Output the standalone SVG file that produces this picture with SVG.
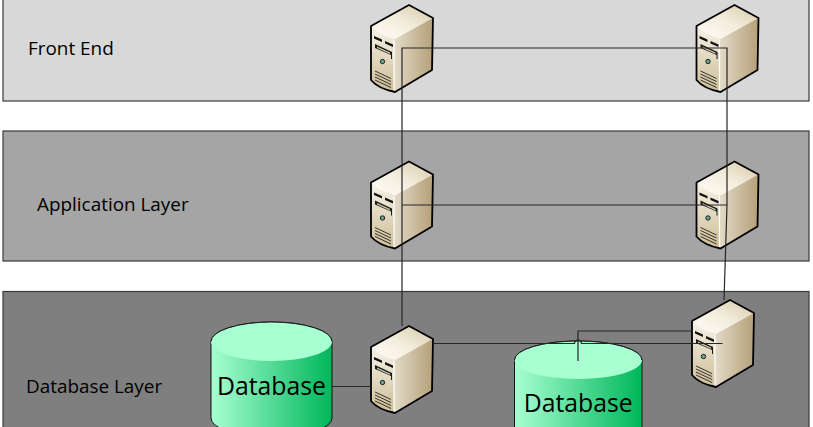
<svg xmlns="http://www.w3.org/2000/svg" width="813" height="427" viewBox="0 0 813 427">
<style>
text{font-family:"Open Sans","Noto Sans","Liberation Sans",sans-serif;fill:#000}
.lbl{font-size:18.900px}
.dbl{font-size:24.800px}
.band{stroke:#3a3a3a;stroke-width:1.2}
.c{fill:none;stroke:#262626;stroke-width:1.2}
.cyl{fill:url(#side);stroke:#111;stroke-width:1}
.top{fill:#a8ffd2}
</style>
<defs>
<linearGradient id="side" x1="0" x2="1" y1="0" y2="0"><stop offset="0" stop-color="#a8ffd2"/><stop offset="1" stop-color="#00b65a"/></linearGradient>
<linearGradient id="sr" x1="0" x2="1" y1="0" y2="0"><stop offset="0" stop-color="#e8e1cf"/><stop offset=".25" stop-color="#ece6d8"/><stop offset="1" stop-color="#b5a078"/></linearGradient>
<linearGradient id="st" x1="0" x2="1" y1="1" y2="0"><stop offset="0" stop-color="#fffdf8"/><stop offset=".5" stop-color="#f3eddd"/><stop offset="1" stop-color="#d5c8a6"/></linearGradient>
<linearGradient id="sf" x1="0" x2="0" y1="0" y2="1"><stop offset="0" stop-color="#f6f2e6"/><stop offset="1" stop-color="#cdbd96"/></linearGradient>
<g id="server">
<path d="M1 21 L39 0 L63 13 L62 65 L25 87 C15 85 6 81 1 75 Z" fill="url(#sr)"/>
<path d="M1 21 L39 0 L63 13 L25 34 C15 32 6 27 1 21 Z" fill="url(#st)"/>
<path d="M1 21 C6 27 15 32 24 34 L24 87 C15 85 6 81 1 75 Z" fill="url(#sf)"/>
<path d="M24 34.500 V87" stroke="#fff" stroke-width="1.2" fill="none"/>
<path d="M1 21 L39 0 L63 13 L62 65 L25 87 C15 85 6 81 1 75 Z" fill="none" stroke="#000" stroke-width="1.800" stroke-linejoin="round"/>
<path d="M4 31 L12 34.500 L12 37 L4 33.500 Z M15 36 L23 39.500 L23 42 L15 38.500 Z" fill="#111"/>
<path d="M5 39 L22 47 L22 54 L21 54 L21 50 L5 43 Z" fill="#1a1a1a"/>
<path d="M7 41.500 L20 47.500 L20 49 L7 43 Z" fill="#cfc6ae"/>
<circle cx="12.500" cy="56.500" r="2.200" fill="#5fa898" stroke="#222" stroke-width="1"/>
<path d="M5 66 L21 73.500 M5 69 L21 76.500 M5 72 L21 79.500 M5 75 L21 82.500" stroke="#222" stroke-width="0.900" fill="none"/>
</g>
</defs>
<rect id="band-front" class="band" x="3" y="-5" width="806" height="106" fill="#d8d8d8"/>
<rect id="band-app" class="band" x="3" y="131" width="806" height="130" fill="#a5a5a5"/>
<rect id="band-db" class="band" x="3" y="291.500" width="806" height="145" fill="#7f7f7f"/>
<text x="28" y="54.500" class="lbl">Front End</text>
<text x="37" y="210.500" class="lbl">Application Layer</text>
<text x="26" y="392.500" class="lbl">Database Layer</text>
<g id="db1">
<path class="cyl" d="M211 341.500 V418 A60.500 19.500 0 0 0 332 418 V341.500 A60.500 19.500 0 0 0 211 341.500 Z"/>
<ellipse class="top" cx="271.500" cy="341.500" rx="60.500" ry="19.500"/>
<path d="M211 341.500 A60.500 19.500 0 0 1 332 341.500" fill="none" stroke="#111"/>
<text x="271.500" y="395" text-anchor="middle" class="dbl">Database</text>
</g>
<g id="db2">
<path class="cyl" d="M514.500 360 V437 A63.750 19 0 0 0 642 437 V360 A63.750 19 0 0 0 514.500 360 Z"/>
<ellipse class="top" cx="578.250" cy="360" rx="63.750" ry="19"/>
<path d="M514.500 360 A63.750 19 0 0 1 642 360" fill="none" stroke="#111"/>
<text x="578.250" y="412" text-anchor="middle" class="dbl">Database</text>
</g>
<use id="srv-fe1" href="#server" x="370" y="5"/>
<use id="srv-fe2" href="#server" x="695.500" y="5"/>
<use id="srv-app1" href="#server" x="370" y="161.500"/>
<use id="srv-app2" href="#server" x="695.500" y="161.500"/>
<use id="srv-db1" href="#server" x="370" y="326"/>
<use id="srv-db2" href="#server" x="691" y="300"/>
<g id="connectors">
<path class="c" d="M402 326 V48 H727 V205 L724 300"/>
<path class="c" d="M402 205 H727"/>
<path class="c" d="M332 386.500 H371"/>
<path class="c" d="M433 343.500 H574.500 A3.500 3.500 0 0 1 581.500 343.500 H722.500"/>
<path class="c" d="M578 361 V331 H692"/>
</g>
</svg>
